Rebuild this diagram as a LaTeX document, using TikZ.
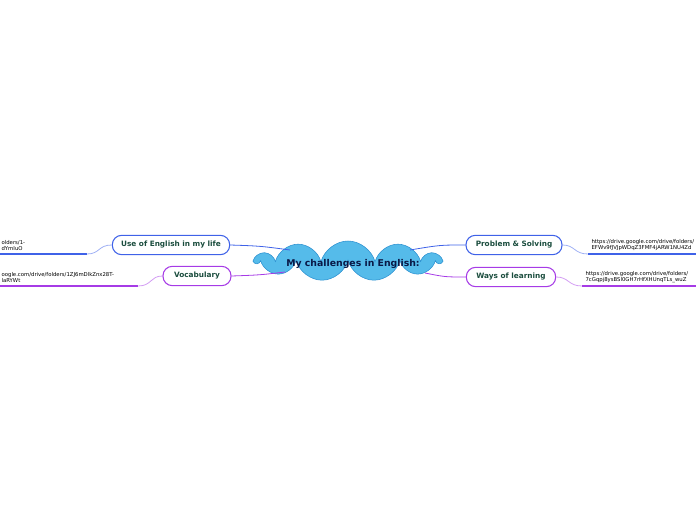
\documentclass[tikz,border=0pt]{standalone}
\usepackage{fontspec}
\setmainfont{DejaVu Sans}
\usetikzlibrary{shapes.symbols}
\definecolor{tgreen}{HTML}{1B4D3E}
\definecolor{cblue}{HTML}{3F62E8}
\definecolor{cpurp}{HTML}{A63BE6}
\definecolor{cloudf}{HTML}{55BBEA}
\definecolor{cloudd}{HTML}{2A8FD0}
\begin{document}
\begin{tikzpicture}[x=0.75pt,y=-0.75pt,
  topic/.style={draw,rounded corners=7pt,line width=0.8pt,fill=white,text=tgreen,font=\bfseries\fontsize{5.5}{6}\selectfont,minimum height=14.5pt,inner xsep=4pt},
  link/.style={font=\fontsize{4}{4.6}\selectfont,align=left,anchor=south west,inner sep=1pt}]
\useasboundingbox (0,0) rectangle (696,520);
\begin{scope}
\clip (0,0) rectangle (696,520);
% cloud
\node[cloud,cloud puffs=11,aspect=5,draw=cloudd,fill=cloudf,minimum width=138pt,minimum height=30pt,inner sep=0pt] (c) at (348,261) {};
\node[font=\bfseries\fontsize{7}{8}\selectfont,text=tgreen!40!black!80!blue] (ct) at (353,264) {My challenges in English:};
% topics
\node[topic,draw=cblue,minimum width=88pt] (u) at (171,245) {Use of English in my life};
\node[topic,draw=cpurp,minimum width=51pt] (v) at (197,276) {Vocabulary};
\node[topic,draw=cblue,minimum width=72pt] (p) at (514,245) {Problem \& Solving};
\node[topic,draw=cpurp,minimum width=67pt] (w) at (511,277) {Ways of learning};
% connectors
\draw[cblue,line width=0.6pt] (290,250) .. controls (260,246) .. (u.east);
\draw[cpurp,line width=0.6pt] (285,272) .. controls (260,275) .. (v.east);
\draw[cblue,line width=0.6pt] (410,250) .. controls (440,245) .. (p.west);
\draw[cpurp,line width=0.6pt] (425,273) .. controls (445,277) .. (w.west);
% link lines
\coordinate (l1) at (87,254); \coordinate (l2) at (138,286);
\coordinate (r1) at (588,254); \coordinate (r2) at (582,286);
\draw[cblue,line width=1pt] (0,254) -- (l1);
\draw[cblue!50,line width=0.6pt] (l1) .. controls (100,254) and (98,245) .. (u.west);
\draw[cpurp,line width=1pt] (0,286) -- (l2);
\draw[cpurp!50,line width=0.6pt] (l2) .. controls (152,286) and (150,276) .. (v.west);
\draw[cblue!50,line width=0.6pt] (p.east) .. controls (575,245) and (574,254) .. (r1);
\draw[cblue,line width=1pt] (r1) -- (696,254);
\draw[cpurp!50,line width=0.6pt] (w.east) .. controls (569,277) and (568,286) .. (r2);
\draw[cpurp,line width=1pt] (r2) -- (696,286);
% link texts
\node[link] (t1) at (0,252) {olders/1-\\dYmIuO};
\node[link] (t2) at (0,284) {oogle.com/drive/folders/1ZJ6mDlkZnx28T-\\laRYWt};
\node[link] (t3) at (590,252) {https://drive.google.com/drive/folders/\\EFWv9fJVJpWDqZ3FMF4jARW1NU4Zd};
\node[link] (t4) at (584,284) {https://drive.google.com/drive/folders/\\7cGqpj8ysBSl0GH7rHfXHUnqTLs\_wuZ};
\end{scope}
\end{tikzpicture}
\end{document}
